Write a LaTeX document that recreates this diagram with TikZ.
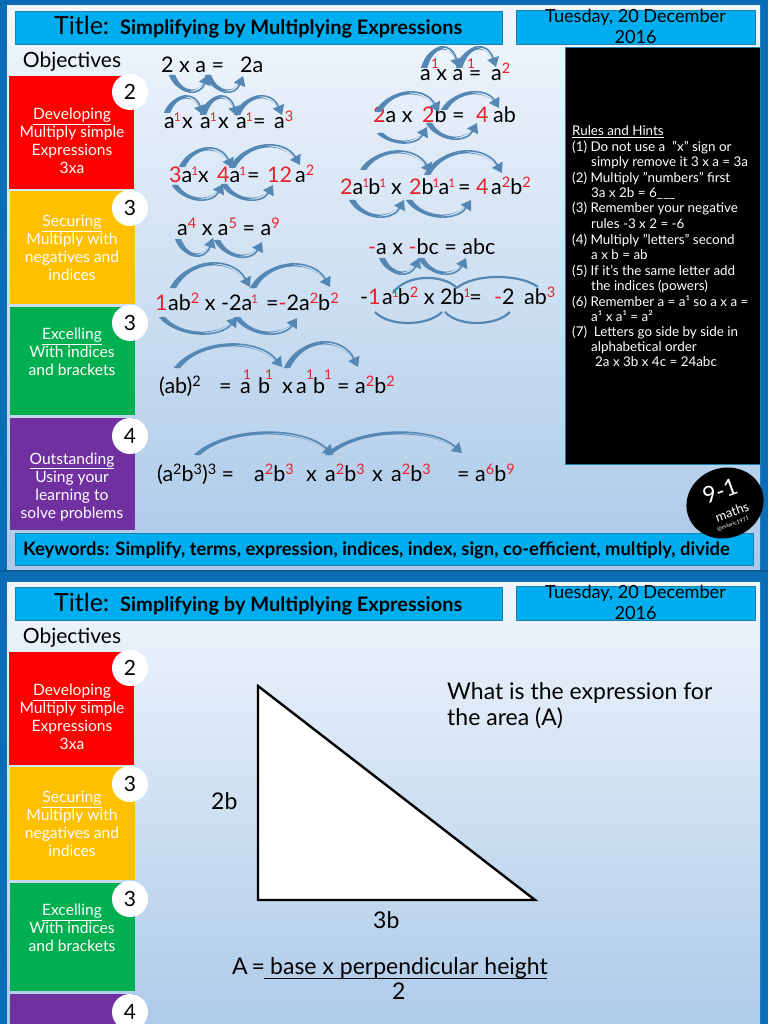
\documentclass[tikz,border=0pt]{standalone}
\usepackage{fontspec}
\setmainfont{Lato}
\usetikzlibrary{arrows.meta,calc}
\definecolor{frame}{HTML}{0B6DB5}
\definecolor{frameD}{HTML}{0A5A96}
\definecolor{boxb}{HTML}{00AEEF}
\definecolor{boxl}{HTML}{1F7FA8}
\definecolor{arcc}{HTML}{5587B5}
\definecolor{redt}{HTML}{E8202A}
\definecolor{pt}{HTML}{F1F6FC}
\definecolor{pb}{HTML}{ABC9E8}
\definecolor{rd}{HTML}{FF0000}
\definecolor{yl}{HTML}{FFC000}
\definecolor{gr}{HTML}{00B050}
\definecolor{pu}{HTML}{7030A0}
\newcommand{\R}[1]{\textcolor{redt}{#1}}
\newcommand{\Sp}[1]{\raisebox{7pt}{\fontsize{14.5}{14}\selectfont\textcolor{redt}{#1}}}
\newcommand{\Sq}[1]{\kern-1pt\raisebox{7pt}{\fontsize{12}{14}\selectfont\textcolor{redt}{#1}}\kern-1pt}
\newcommand{\Sb}[1]{\raisebox{7pt}{\fontsize{14.5}{14}\selectfont #1}}
\newcommand{\eqn}[3]{\node[eqtext] at (#1,#2) {#3};}
% tapered arc: x1 y1 x2 y2 apex-y
\newcommand{\barc}[5]{%
 \path let \n1={#1+0.2*(#3-#1)},\n2={#3-0.22*(#3-#1)},\n3={(8*#5-#2-#4)/6} in
 coordinate (p1) at (#1,#2) coordinate (p2) at (#3,#4)
 coordinate (c1) at (\n1,\n3) coordinate (c2) at (\n2,\n3);
 \fill[arcc] ($(p1)+(-3.2,0)$) .. controls ($(c1)+(-2,0)$) and (c2) .. (p2)
   .. controls (c2) and ($(c1)+(2.6,{(#2>#5?3.8:-3.8)})$) .. ($(p1)+(3.2,0)$) -- cycle;
 \draw[arcc,line width=1.6pt,-{Triangle[length=9.5pt,width=12pt]}] (p1) .. controls (c1) and (c2) .. (p2);}
% plain arc without a head
\newcommand{\parc}[5]{%
 \path let \n1={#1+0.2*(#3-#1)},\n2={#3-0.22*(#3-#1)},\n3={(8*#5-#2-#4)/6} in
 coordinate (p1) at (#1,#2) coordinate (p2) at (#3,#4)
 coordinate (c1) at (\n1,\n3) coordinate (c2) at (\n2,\n3);
 \draw[arcc,line width=2.2pt] (p1) .. controls (c1) and (c2) .. (p2);}
\tikzset{
 x=1pt,y=-1pt,
 eqtext/.style={anchor=base west,inner sep=0pt,font=\fontsize{21.5}{22}\selectfont,text=black},
 bluebox/.style={fill=boxb,draw=boxl,line width=1pt},
 obj/.style={align=center,text=white,font=\fontsize{15.6}{18}\selectfont,inner sep=0pt},
 badge/.style={circle,fill=white,minimum size=36pt,inner sep=0pt,font=\fontsize{21}{22}\selectfont},
 titletext/.style={inner sep=0pt,anchor=base west},
 rule/.style={anchor=base west,inner sep=0pt,text=white,font=\fontsize{13.4}{14}\selectfont},
 sup1/.style={eqtext,text=redt,font=\fontsize{13.5}{14}\selectfont},
 big/.style={eqtext,font=\fontsize{23}{24}\selectfont},
}
\newcommand{\slidebase}[1]{%
 \begin{scope}[shift={(0,#1)}]
 \node[bluebox,minimum width=487pt,minimum height=33pt,anchor=north west] (title#1) at (15,11) {};
 \node[titletext,font=\fontsize{25}{22}\selectfont] (tl#1) at (54,35) {Title:};
 \node[titletext,font=\fontsize{20}{22}\selectfont\bfseries] (ts#1) at (120,35) {Simplifying by Multiplying Expressions};
 \node[bluebox,minimum width=239pt,minimum height=34pt,anchor=north west] (date#1) at (516,10) {};
 \node[inner sep=0pt,align=center,font=\fontsize{18.1}{20.5}\selectfont] (dt#1) at (635.5,26.5) {Tuesday, 20 December\\2016};
 \node[inner sep=0pt,font=\fontsize{21}{20}\selectfont] (ob#1) at (72,62) {Objectives};
 \node[fill=rd,minimum width=125pt,minimum height=113pt,anchor=north west,inner sep=0pt] (r#1) at (9,76) {};
 \node[fill=yl,minimum width=125pt,minimum height=113pt,anchor=north west,inner sep=0pt] (y#1) at (10,191) {};
 \node[fill=gr,minimum width=125pt,minimum height=108pt,anchor=north west,inner sep=0pt] (g#1) at (10,307) {};
 \node[obj] (rt#1) at (72,141) {\underline{Developing}\\Multiply simple\\Expressions\\3xa};
 \node[obj] (yt#1) at (72,248) {\underline{Securing}\\Multiply with\\negatives and\\indices};
 \node[obj] (gt#1) at (72,352) {\underline{Excelling}\\With indices\\and brackets};
 \node[badge] (b1#1) at (130,92) {2};
 \node[badge] (b2#1) at (130,208) {3};
 \node[badge] (b3#1) at (130,323) {3};
 \end{scope}}
\begin{document}
\begin{tikzpicture}
\useasboundingbox (0,0) rectangle (768,1024);
\fill[frame] (0,0) rectangle (768,1024);
\shade[top color=pt,bottom color=pb] (7,6) rectangle (760,570);
\shade[top color=pt,bottom color=pb] (7,582) rectangle (760,1040);
\draw[frameD,line width=1.5pt] (0,571) -- (768,571);
\slidebase{0}
\slidebase{576}
% purple boxes
\node[fill=pu,minimum width=125pt,minimum height=112pt,anchor=north west,inner sep=0pt] (p0) at (10,418) {};
\node[obj] (pt0) at (72,487) {\underline{Outstanding}\\Using your\\learning to\\solve problems};
\node[badge] (b40) at (130,436) {4};
\fill[pu] (10,994) rectangle (135,1024);
\node[badge] (b41) at (130,1012) {4};
% keywords
\node[bluebox,minimum width=738pt,minimum height=32pt,anchor=north west] (kw) at (15,533) {};
\node[titletext,font=\fontsize{18.4}{20}\selectfont\bfseries] (kwt) at (23,555) {Keywords: Simplify, terms, expression, indices, index, sign, co-efficient, multiply, divide};
% black box
\node[fill=black,draw=boxl,line width=.5pt,minimum width=195pt,minimum height=417pt,anchor=north west] (bk) at (565,47) {};
\node[rule] at (572,136) {\underline{Rules and Hints}};
\node[rule] at (572,152) {(1) Do not use a \ "x" sign or};
\node[rule] at (591,167) {simply remove it 3 x a = 3a};
\node[rule] at (572,183) {(2) Multiply "numbers" first};
\node[rule] at (591,198) {3a x 2b = 6\_\_\_};
\node[rule] at (572,213) {(3) Remember your negative};
\node[rule] at (591,229) {rules -3 x 2 = -6};
\node[rule] at (572,244) {(4) Multiply "letters" second};
\node[rule] at (591,259) {a x b = ab};
\node[rule] at (572,275) {(5) If it's the same letter add};
\node[rule] at (591,290) {the indices (powers)};
\node[rule] at (572,306) {(6) Remember a = a¹ so a x a =};
\node[rule] at (591,321) {a¹ x a¹ = a²};
\node[rule] at (572,336) {(7) \ Letters go side by side in};
\node[rule] at (591,351) {alphabetical order};
\node[rule] at (595,366) {2a x 3b x 4c = 24abc};
% 9-1 badge
\fill[black,rotate around={20:(725,503)}] (725,503) ellipse (39 and 35);
\node[rotate=20,text=white,inner sep=0pt,font=\fontsize{23}{22}\selectfont] (n91) at (720,491) {9-1};
\node[rotate=20,text=white,inner sep=0pt,font=\fontsize{13}{13}\selectfont] (nm) at (732,512) {maths};
\node[rotate=20,text=white,inner sep=0pt,font=\fontsize{5.5}{6}\selectfont] (ne) at (733,524) {@esteric1971};
% left equations
\eqn{161}{73}{2 x a =}\eqn{240}{73}{2a}
\eqn{164}{129}{a\Sq{1}}\eqn{182}{129}{x}\eqn{200}{129}{a\Sq{1}}\eqn{218}{129}{x}\eqn{236}{129}{a\Sq{1}}\eqn{253}{129}{=}\eqn{274}{129}{a\Sp{3}}
\eqn{169}{183}{\R{3}a\Sq{1}}\eqn{198}{183}{x}\eqn{217}{183}{\R{4}a\Sq{1}}\eqn{247}{183}{=}\eqn{267}{183}{\R{12}}\eqn{295}{183}{a\Sp{2}}
\eqn{177}{236}{a\Sp{4} x a\Sp{5} = a\Sp{9}}
\eqn{155}{310}{\R{1}}\eqn{168}{310}{ab\Sp{2} x -2a\Sq{1}}\eqn{266}{310}{=\R{-}2a\Sp{2}b\Sp{2}}
\eqn{159}{393}{(ab)\Sb{2}}\eqn{219}{393}{=}\eqn{240}{393}{a}\eqn{258}{393}{b}\eqn{282}{393}{x}\eqn{296}{393}{a}\eqn{313}{393}{b}\eqn{337}{393}{= a\Sp{2}b\Sp{2}}
\node[sup1] at (243,379) {1};
\node[sup1] at (265,379) {1};
\node[sup1] at (306,379) {1};
\node[sup1] at (324,379) {1};
\eqn{157}{481}{(a\Sb{2}b\Sb{3})\Sb{3} =}\eqn{254}{481}{a\Sp{2}b\Sp{3}}\eqn{306}{481}{x}\eqn{325}{481}{a\Sp{2}b\Sp{3}}\eqn{372}{481}{x}\eqn{391}{481}{a\Sp{2}b\Sp{3}}\eqn{457}{481}{= a\Sp{6}b\Sp{9}}
% right equations
\eqn{420}{81}{a x a =}\eqn{491}{81}{a\Sp{2}}
\node[sup1] at (431,69) {1};
\node[sup1] at (467,69) {1};
\eqn{373}{123}{\R{2}a x}\eqn{422}{123}{\R{2}b =}\eqn{476}{123}{\R{4}}\eqn{493}{123}{ab}
\eqn{340}{195}{\R{2}a\Sq{1}b\Sq{1}}\eqn{391}{195}{x}\eqn{409}{195}{\R{2}b\Sq{1}a\Sq{1}}\eqn{458}{195}{=}\eqn{476}{195}{\R{4}}\eqn{491}{195}{a\Sp{2}b\Sp{2}}
\eqn{368}{254}{\R{-}a x \R{-}bc = abc}
\eqn{360}{304}{-\R{1}}\eqn{382}{304}{a\Sq{1}b\Sp{2} x 2b\Sq{1}=}\eqn{494}{304}{\R{-}2}\eqn{524}{304}{ab\Sp{3}}
% arcs
\barc{172}{75}{208}{75}{91}\barc{208}{75}{243}{76}{91}
\barc{167}{113}{203}{115}{97}\barc{203}{115}{237}{116}{97}\barc{237}{115}{282}{115}{97}
\barc{182}{167}{232}{168}{149}\barc{232}{168}{300}{165}{146}
\barc{175}{185}{223}{184}{199}\barc{224}{184}{273}{185}{199}
\barc{178}{239}{213}{238}{255}\barc{217}{240}{262}{242}{256}
\barc{173}{288}{250}{287}{264}\barc{253}{288}{330}{287}{265}
\barc{162}{317}{237}{317}{333}\barc{237}{317}{297}{318}{333}
\barc{177}{368}{282}{367}{345}\barc{287}{368}{358}{367}{343}
\barc{197}{455}{333}{455}{433}\barc{328}{455}{462}{453}{433}
\barc{424}{68}{459}{68}{48}\barc{459}{68}{496}{67}{48}
\barc{378}{112}{439}{112}{93}\barc{444}{110}{499}{108}{93}
\barc{380}{133}{427}{127}{142}\barc{429}{123}{477}{123}{138}
\barc{363}{170}{431}{173}{152}\barc{427}{175}{502}{173}{152}
\barc{352}{200}{404}{200}{216}\barc{409}{200}{471}{200}{216}
\barc{382}{258}{419}{258}{273}\barc{421}{258}{466}{258}{273}
\parc{393}{293}{457}{288}{278}\parc{457}{288}{538}{287}{277}
\parc{375}{312}{442}{312}{323}\parc{445}{312}{510}{312}{323}
% slide 2
\fill[white] (258,686) -- (258,900) -- (535,900) -- cycle;
\coordinate (ta) at (258,686);\coordinate (tb) at (258,900);\coordinate (tc) at (535,900);
\draw[black,line width=2.4pt,line join=miter] (ta) -- (tb) -- (tc) -- cycle;
\node[big] at (447,699) {What is the expression for};
\node[big] at (447,725) {the area (A)};
\node[big] at (211,809) {2b};
\node[big] at (373,928) {3b};
\node[big] at (232,974) {A\,=};
\node[big] at (270,974) {base x perpendicular height};
\coordinate (fl) at (264,978);\coordinate (fr) at (547,978);
\draw[black,line width=1pt] (fl) -- (fr);
\node[big] at (392,999) {2};
\end{tikzpicture}
\end{document}
